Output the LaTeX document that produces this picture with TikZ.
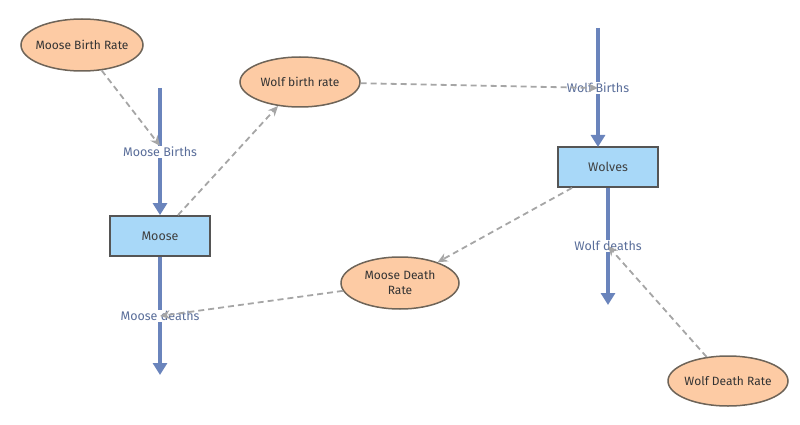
\documentclass[tikz,border=0pt]{standalone}
\usepackage{fontspec}
\setmainfont{Fira Sans}
\usetikzlibrary{shapes.geometric,arrows.meta}
\definecolor{flow}{HTML}{6A84BC}
\definecolor{stockfill}{HTML}{A8D8F8}
\definecolor{stockline}{HTML}{555555}
\definecolor{ovfill}{HTML}{FDCBA4}
\definecolor{ovline}{HTML}{6E6458}
\definecolor{lab}{HTML}{5A6E9A}
\definecolor{dash}{HTML}{A6A6A6}
\tikzset{
  stock/.style={draw=stockline,line width=1.8pt,fill=stockfill,minimum width=100pt,minimum height=40pt,font=\fontsize{12.5}{14}\selectfont,text=black!75},
  aux/.style={ellipse,draw=ovline,line width=1.5pt,fill=ovfill,font=\fontsize{12}{15}\selectfont,text=black!80,align=center,inner xsep=-12pt,inner ysep=0pt},
  flowlbl/.style={font=\fontsize{12.5}{14}\selectfont,text=lab,fill=white,inner sep=1pt},
  flowarr/.style={draw=flow,line width=3.6pt,-{Triangle[length=12pt,width=14pt]}},
  link/.style={draw=dash,line width=1.8pt,dash pattern=on 6pt off 4pt,-{Stealth[length=10pt,width=9pt]}},
}
\begin{document}
\begin{tikzpicture}[x=1pt,y=-1pt]
\useasboundingbox (0,0) rectangle (800,425);
\node[aux,minimum width=122pt,minimum height=52pt] (mbr) at (82,45) {Moose Birth Rate};
\node[aux,minimum width=120pt,minimum height=50pt] (wbr) at (300,82) {Wolf birth rate};
\node[aux,minimum width=118pt,minimum height=52pt] (mdr) at (400,283) {Moose Death\\Rate};
\node[aux,minimum width=120pt,minimum height=50pt] (wdr) at (728,381) {Wolf Death Rate};
\node[stock] (moose) at (160,236) {Moose};
\node[stock] (wolves) at (608,167) {Wolves};
\coordinate (mi) at (160,88);
\coordinate (mo) at (160,375);
\coordinate (wi) at (598,28);
\coordinate (wo) at (608,305);
\draw[flowarr] (mi) -- (moose.north);
\draw[flowarr] (moose.south) -- (mo);
\draw[flowarr] (wi) -- (598,147);
\draw[flowarr] (wolves.south) -- (wo);
\node[flowlbl] (mb) at (160,152) {Moose Births};
\node[flowlbl] (md) at (160,316) {Moose deaths};
\node[flowlbl] (wb) at (598,88) {Wolf Births};
\node[flowlbl] (wd) at (608,246) {Wolf deaths};
\draw[link] (mbr) -- (mb.north);
\draw[link] ([xshift=18pt]moose.north) -- (wbr);
\draw[link] (wbr) -- (wb.center);
\draw[link] ([xshift=-36pt]wolves.south) -- (mdr);
\draw[link] (mdr) -- (md.center);
\draw[link] (wdr) -- (wd.center);
\end{tikzpicture}
\end{document}
